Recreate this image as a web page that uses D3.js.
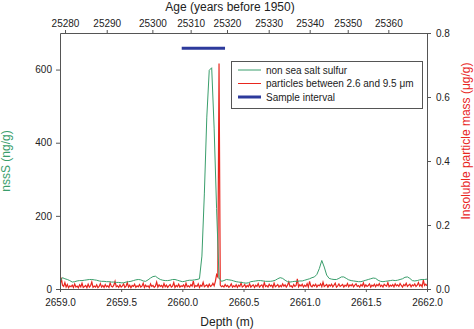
<!DOCTYPE html>
<html>
<head>
<meta charset="utf-8">
<script src="https://cdn.jsdelivr.net/npm/d3@7"></script>
<style>
  html, body { margin: 0; padding: 0; background: #fff; }
  svg { display: block; font-family: "Liberation Sans", Arial, sans-serif; }
</style>
</head>
<body>
<div id="chart"></div>
<script>
// ---------- DATA ----------
const depthStart = 2659.0;
const greenStep = 0.02;
const nssS = [
  20,31,28,26,23,19,20,22,23,23,
  24,25,26,26,25,24,22,21,21,20,
  20,19,19,18,18,17,17,19,20,21,
  23,25,26,25,22,21,25,30,34,35,
  30,26,24,23,23,24,26,26,24,22,
  20,21,23,24,24,25,26,28,90,260,
  470,598,605,440,220,30,21,23,26,25,
  24,22,20,19,18,17,16,17,20,21,
  22,23,23,22,21,21,21,22,24,28,
  31,29,24,20,19,20,21,21,22,22,
  24,26,28,31,33,40,56,78,60,38,
  29,27,26,26,29,33,33,29,25,23,
  22,21,20,20,22,24,26,28,30,29,
  24,21,20,21,22,23,24,23,24,26,
  28,32,33,29,23,22,23,25,26,26,
  27
];
const redStep = 0.01;
const particles = [
  0.005,0.036,0.012,0.008,0.02,0.006,0.014,0.004,0.01,0.007,
  0.012,0.005,0.016,0.006,0.009,0.004,0.013,0.007,0.018,0.005,
  0.008,0.011,0.004,0.015,0.006,0.01,0.022,0.005,0.009,0.006,
  0.013,0.004,0.008,0.017,0.006,0.011,0.005,0.014,0.007,0.01,
  0.005,0.019,0.008,0.006,0.012,0.024,0.007,0.01,0.005,0.013,
  0.006,0.01,0.016,0.005,0.009,0.02,0.006,0.012,0.004,0.011,
  0.008,0.015,0.005,0.01,0.007,0.014,0.006,0.009,0.018,0.005,
  0.012,0.007,0.01,0.004,0.016,0.008,0.011,0.005,0.009,0.022,
  0.006,0.013,0.008,0.011,0.005,0.017,0.007,0.012,0.005,0.01,
  0.014,0.006,0.009,0.02,0.005,0.011,0.007,0.015,0.006,0.01,
  0.008,0.013,0.005,0.018,0.007,0.01,0.006,0.014,0.009,0.025,
  0.006,0.011,0.008,0.016,0.005,0.012,0.009,0.021,0.007,0.01,
  0.013,0.006,0.015,0.008,0.011,0.018,0.01,0.024,0.045,0.038,
  0.705,0.012,0.007,0.01,0.006,0.014,0.008,0.011,0.005,0.009,
  0.016,0.006,0.01,0.007,0.013,0.005,0.012,0.008,0.019,0.006,
  0.009,0.014,0.005,0.011,0.007,0.016,0.006,0.01,0.013,0.005,
  0.012,0.008,0.017,0.006,0.01,0.013,0.005,0.02,0.008,0.011,
  0.006,0.015,0.009,0.012,0.005,0.018,0.007,0.01,0.014,0.006,
  0.011,0.007,0.016,0.009,0.013,0.006,0.012,0.022,0.008,0.01,
  0.005,0.014,0.008,0.011,0.032,0.007,0.013,0.009,0.015,0.006,
  0.012,0.008,0.017,0.006,0.024,0.01,0.007,0.013,0.009,0.015,
  0.006,0.012,0.01,0.016,0.007,0.021,0.008,0.011,0.014,0.006,
  0.013,0.009,0.015,0.007,0.012,0.018,0.006,0.01,0.016,0.008,
  0.011,0.014,0.006,0.012,0.009,0.017,0.007,0.013,0.01,0.015,
  0.007,0.012,0.016,0.008,0.011,0.006,0.014,0.009,0.019,0.007,
  0.013,0.008,0.011,0.016,0.006,0.012,0.009,0.015,0.007,0.014,
  0.01,0.017,0.008,0.012,0.006,0.015,0.011,0.009,0.02,0.007,
  0.012,0.009,0.014,0.007,0.016,0.01,0.013,0.008,0.017,0.011,
  0.006,0.014,0.01,0.018,0.008,0.012,0.015,0.007,0.013,0.01,
  0.016,0.008,0.012,0.02,0.009,0.014,0.007,0.028,0.011,0.015,
  0.01
];
const depthTicks = [2659.0, 2659.5, 2660.0, 2660.5, 2661.0, 2661.5, 2662.0];
const leftTicks = [0, 200, 400, 600];
const rightTicks = [0.0, 0.2, 0.4, 0.6, 0.8];
const ageTicks = [25280, 25290, 25300, 25310, 25320, 25330, 25340, 25350, 25360];
const ageTickDepths = [2659.041, 2659.382, 2659.755, 2660.068, 2660.365, 2660.706, 2661.041, 2661.352, 2661.684];
const sampleInterval = [2659.995, 2660.349];
const sampleLevel = 658;
const legendLabels = ["non sea salt sulfur", "particles between 2.6 and 9.5 \u03bcm", "Sample interval"];

// ---------- LAYOUT ----------
const W = 474, H = 329;
const L = 60, R = 427, T = 33, B = 289;
const green = "#3a9e6c", red = "#e8261e", blue = "#2d3a9c", axisCol = "#555", textCol = "#222";

const svg = d3.select("#chart").append("svg").attr("width", W).attr("height", H);

const x = d3.scaleLinear().domain([2659, 2662]).range([L, R]);
const yL = d3.scaleLinear().domain([0, 700]).range([B, T]);
const yR = d3.scaleLinear().domain([0, 0.8]).range([B, T]);

const greenData = nssS.map((v, i) => [depthStart + i * greenStep, v]);
const redData = particles.map((v, i) => [depthStart + i * redStep, v]);

// clip
svg.append("clipPath").attr("id", "clip").append("rect")
  .attr("x", L).attr("y", T - 1).attr("width", R - L).attr("height", B - T + 1);

// series
svg.append("path").datum(redData)
  .attr("clip-path", "url(#clip)")
  .attr("fill", "none").attr("stroke", red).attr("stroke-width", 1.2)
  .attr("d", d3.line().x(d => x(d[0])).y(d => yR(d[1])));

svg.append("path").datum(greenData)
  .attr("clip-path", "url(#clip)")
  .attr("fill", "none").attr("stroke", green).attr("stroke-width", 1)
  .attr("d", d3.line().x(d => x(d[0])).y(d => yL(d[1])));

// sample interval
svg.append("line")
  .attr("x1", x(sampleInterval[0])).attr("x2", x(sampleInterval[1]))
  .attr("y1", yL(sampleLevel)).attr("y2", yL(sampleLevel))
  .attr("stroke", blue).attr("stroke-width", 3);

// axes
function styleAxis(g) {
  g.selectAll("path.domain").attr("stroke", axisCol).attr("stroke-width", 1);
  g.selectAll(".tick line").attr("stroke", axisCol);
  g.selectAll(".tick text").attr("fill", textCol).attr("font-size", 10)
    .attr("font-family", "Liberation Sans, Arial, sans-serif");
}

svg.append("g").attr("transform", `translate(0,${B})`)
  .call(d3.axisBottom(x).tickValues(depthTicks).tickFormat(d3.format(".1f")).tickSize(3).tickPadding(7).tickSizeOuter(0))
  .call(styleAxis);

svg.append("g").attr("transform", `translate(0,${T})`)
  .call(d3.axisTop(x).tickValues(ageTickDepths).tickFormat((d, i) => ageTicks[i]).tickSize(3).tickPadding(3).tickSizeOuter(0))
  .call(styleAxis);

svg.append("g").attr("transform", `translate(${L},0)`)
  .call(d3.axisLeft(yL).tickValues(leftTicks).tickFormat(d3.format("d")).tickSize(4).tickPadding(4).tickSizeOuter(0))
  .call(styleAxis);

svg.append("g").attr("transform", `translate(${R},0)`)
  .call(d3.axisRight(yR).tickValues(rightTicks).tickFormat(d3.format(".1f")).tickSize(4).tickPadding(5).tickSizeOuter(0))
  .call(styleAxis);

// axis titles
svg.append("text").attr("x", 230).attr("y", 11).attr("text-anchor", "middle")
  .attr("font-size", 12).attr("fill", textCol).text("Age (years before 1950)");
svg.append("text").attr("x", 227).attr("y", 326).attr("text-anchor", "middle")
  .attr("font-size", 12).attr("fill", textCol).text("Depth (m)");
svg.append("text").attr("transform", `translate(10,161) rotate(-90)`).attr("text-anchor", "middle")
  .attr("font-size", 12).attr("fill", green).text("nssS (ng/g)");
svg.append("text").attr("transform", `translate(470,141) rotate(-90)`).attr("text-anchor", "middle")
  .attr("font-size", 12).attr("fill", red).text("Insoluble particle mass  (\u03bcg/g)");

// legend
const lg = svg.append("g");
lg.append("rect").attr("x", 231.5).attr("y", 61.5).attr("width", 191).attr("height", 47)
  .attr("fill", "#fff").attr("stroke", axisCol).attr("stroke-width", 1);
const legColors = [green, red, blue];
const legWidths = [1, 1, 3];
legendLabels.forEach((lab, i) => {
  const yy = 70 + i * 13.5;
  lg.append("line").attr("x1", 238).attr("x2", 261).attr("y1", yy).attr("y2", yy)
    .attr("stroke", legColors[i]).attr("stroke-width", legWidths[i]);
  lg.append("text").attr("x", 266).attr("y", yy + 3.5).attr("font-size", 10)
    .attr("fill", textCol).text(lab);
});
</script>
</body>
</html>
